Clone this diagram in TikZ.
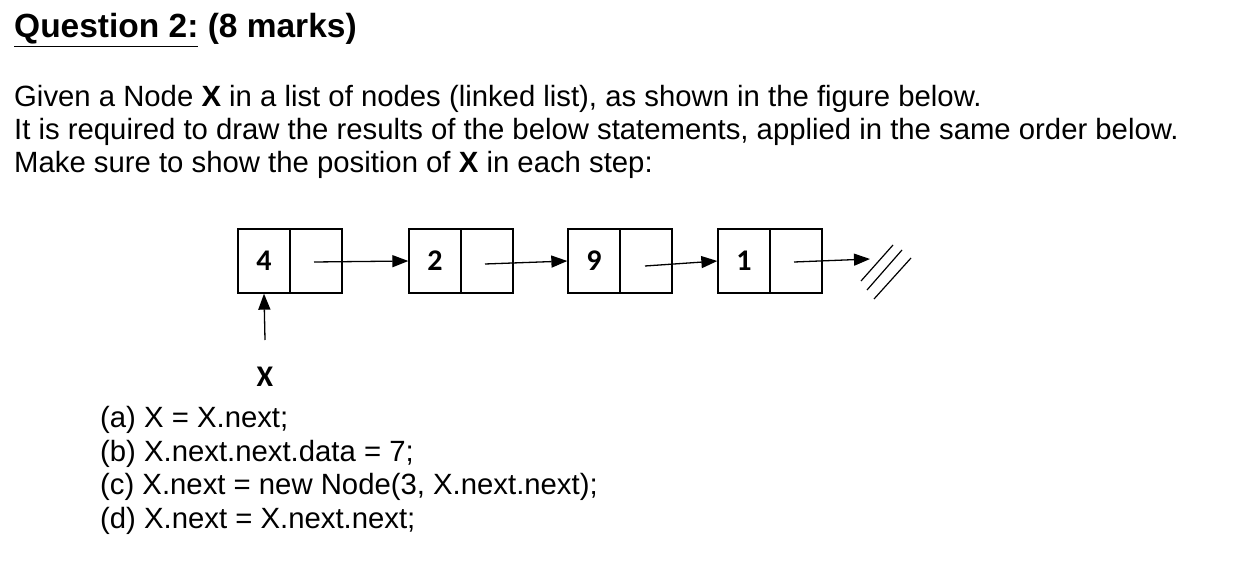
\documentclass[tikz,border=0pt]{standalone}
\usepackage{fontspec}
\setmainfont{Liberation Sans}
\newfontfamily\calfnt{Carlito}
\usetikzlibrary{arrows.meta}
\begin{document}
\begin{tikzpicture}[x=1pt,y=-1pt,
  cell/.style={draw,line width=1.3pt,minimum width=52pt,minimum height=64pt,inner sep=0pt,font=\calfnt\bfseries\fontsize{30}{30}\selectfont},
  ptr/.style={line width=1.3pt,-{Triangle[length=16pt,width=12pt]}},
  txt/.style={anchor=base west,inner sep=0pt,font=\fontsize{29.3}{33}\selectfont}]
\useasboundingbox (0,0) rectangle (1255,561);
\node[txt,font=\bfseries\fontsize{33.5}{34}\selectfont] (title) at (14,38) {\underline{Question 2:} (8 marks)};
\node[txt] (l1) at (14,107) {Given a Node \textbf{X} in a list of nodes (linked list), as shown in the figure below.};
\node[txt] (l2) at (14,140) {It is required to draw the results of the below statements, applied in the same order below.};
\node[txt] (l3) at (14,173) {Make sure to show the position of \textbf{X} in each step:};
\foreach \n/\x/\v in {a/264/4,b/435/2,c/594/9,d/744/1}{
  \node[cell] (\n1) at (\x,261) {\v};
  \node[cell] (\n2) at (\x+52,261) {};
}
\coordinate (nul) at (870,259);
\draw[ptr] (a2.center)++(-2,1) -- (b1.west);
\draw[ptr] (b2.center)++(-2,3) -- (c1.west);
\draw[ptr] (c2.center)++(-1,5) -- (d1.west);
\draw[ptr] (d2.center)++(-2,1) -- (nul);
\draw[line width=1.2pt] (861,281) -- (893,245) (867,290) -- (902,250) (874,299) -- (911,258);
\node[font=\calfnt\bfseries\fontsize{30}{30}\selectfont] (X) at (265,377) {X};
\draw[ptr] (265,340) -- (a1.south);
\node[txt] (s1) at (100,427) {(a) X = X.next;};
\node[txt] (s2) at (100,461) {(b) X.next.next.data = 7;};
\node[txt] (s3) at (100,494) {(c) X.next = new Node(3, X.next.next);};
\node[txt] (s4) at (100,528) {(d) X.next = X.next.next;};
\end{tikzpicture}
\end{document}
